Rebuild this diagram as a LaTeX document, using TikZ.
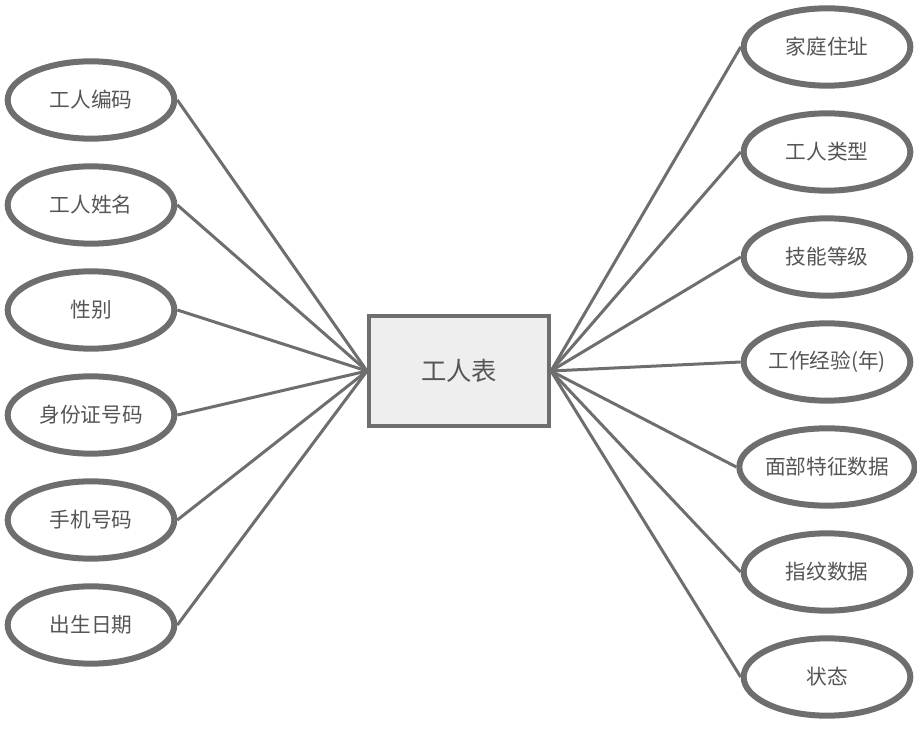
\documentclass[tikz,border=0pt]{standalone}
\usepackage{fontspec}
\setmainfont{Noto Sans CJK SC}
\usetikzlibrary{shapes.geometric}
\definecolor{edgegray}{HTML}{6E6E6E}
\definecolor{txtgray}{HTML}{555555}
\definecolor{boxfill}{HTML}{EEEEEE}
\begin{document}
\begin{tikzpicture}[x=0.75pt,y=-0.75pt,
  attr/.style={ellipse,draw=edgegray,line width=4.5pt,fill=white,
    minimum width=125pt,minimum height=58pt,inner sep=0pt,
    text=txtgray,font=\fontsize{15.5pt}{17pt}\selectfont},
  ent/.style={rectangle,draw=edgegray,line width=3pt,fill=boxfill,
    minimum width=135pt,minimum height=82.5pt,inner sep=0pt,
    text=txtgray,font=\fontsize{19pt}{21pt}\selectfont},
  link/.style={draw=edgegray,line width=2.25pt}]
\useasboundingbox (0,0) rectangle (917,741);
\node[ent] (box) at (459,371) {工人表};
\node[attr] (l1) at (91,100) {工人编码};
\node[attr] (l2) at (91,205) {工人姓名};
\node[attr] (l3) at (91,310) {性别};
\node[attr] (l4) at (91,415) {身份证号码};
\node[attr] (l5) at (91,520) {手机号码};
\node[attr] (l6) at (91,625) {出生日期};
\node[attr] (r1) at (827,47) {家庭住址};
\node[attr] (r2) at (827,152) {工人类型};
\node[attr] (r3) at (827,257) {技能等级};
\node[attr] (r4) at (827,362) {工作经验(年)};
\node[attr] (r5) at (827,467) {面部特征数据};
\node[attr] (r6) at (827,572) {指纹数据};
\node[attr] (r7) at (827,677) {状态};
\foreach \n in {l1,l2,l3,l4,l5,l6}
  \draw[link] (\n.east) -- (box.west);
\foreach \n in {r1,r2,r3,r4,r5,r6,r7}
  \draw[link] (\n.west) -- (box.east);
\end{tikzpicture}
\end{document}
